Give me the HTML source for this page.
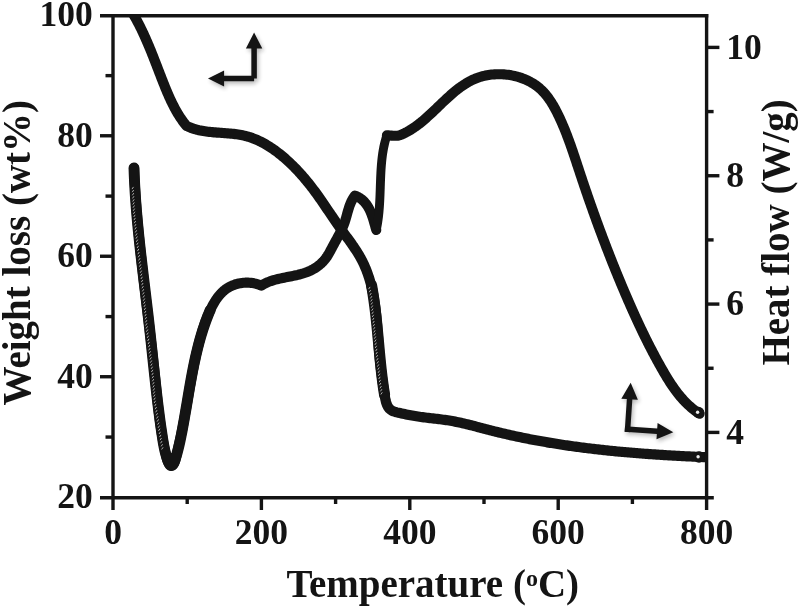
<!DOCTYPE html>
<html lang="en"><head><meta charset="utf-8"><title>TGA / DSC</title>
<style>
html,body{margin:0;padding:0;background:#fff;}
body{width:800px;height:608px;overflow:hidden;position:relative;font-family:"Liberation Serif",serif;}
svg{position:absolute;left:0;top:0;display:block;}
text{font-family:"Liberation Serif",serif;font-weight:bold;fill:#141414;}
.tk{font-size:35.5px;}
.lb{font-size:39px;}
</style></head><body>
<svg width="800" height="608" viewBox="0 0 800 608">
<defs><clipPath id="plot"><rect x="113.00" y="15.80" width="593.60" height="481.90"/></clipPath>
<filter id="sh" x="-30%" y="-30%" width="170%" height="170%"><feGaussianBlur stdDeviation="2"/></filter></defs>
<rect width="800" height="608" fill="#fff"/>
<g clip-path="url(#plot)" fill="none" stroke="#141414" stroke-linecap="round" stroke-linejoin="round">
<path d="M129.50,8.00 L130.33,9.30 L131.14,10.60 L131.94,11.91 L132.74,13.22 L133.51,14.54 L134.28,15.86 L135.04,17.19 L135.79,18.53 L136.52,19.87 L137.25,21.21 L137.96,22.56 L138.67,23.91 L139.36,25.27 L140.05,26.63 L140.73,28.00 L141.40,29.37 L142.06,30.74 L142.72,32.12 L143.36,33.50 L144.00,34.88 L144.64,36.27 L145.26,37.66 L145.88,39.06 L146.49,40.45 L147.10,41.85 L147.70,43.25 L148.30,44.66 L148.89,46.07 L149.48,47.48 L150.06,48.89 L150.64,50.30 L151.21,51.71 L151.78,53.13 L152.35,54.55 L152.91,55.97 L153.48,57.39 L154.03,58.81 L154.59,60.24 L155.15,61.66 L155.70,63.09 L156.25,64.51 L156.80,65.94 L157.35,67.36 L157.90,68.79 L158.45,70.22 L159.00,71.64 L159.56,73.07 L160.11,74.49 L160.66,75.92 L161.21,77.34 L161.77,78.77 L162.32,80.19 L162.88,81.61 L163.45,83.03 L164.01,84.45 L164.58,85.87 L165.15,87.29 L165.73,88.70 L166.31,90.11 L166.90,91.52 L167.49,92.92 L168.10,94.32 L168.71,95.72 L169.32,97.11 L169.95,98.50 L170.59,99.88 L171.24,101.25 L171.90,102.62 L172.57,103.98 L173.25,105.34 L173.95,106.69 L174.66,108.03 L175.39,109.36 L176.13,110.68 L176.88,112.00 L177.65,113.31 L178.44,114.61 L179.25,115.89 L180.07,117.17 L180.91,118.44 L181.78,119.69 L182.66,120.94 L183.56,122.17 L184.48,123.39 L185.43,124.60 L186.40,125.80 L187.75,126.45 L189.11,127.06 L190.49,127.62 L191.88,128.14 L193.29,128.62 L194.71,129.06 L196.13,129.47 L197.57,129.84 L199.02,130.19 L200.48,130.50 L201.95,130.79 L203.43,131.05 L204.91,131.28 L206.40,131.50 L207.90,131.69 L209.40,131.87 L210.91,132.03 L212.42,132.18 L213.94,132.32 L215.46,132.44 L216.98,132.56 L218.50,132.67 L220.03,132.78 L221.55,132.89 L223.08,133.00 L224.60,133.11 L226.12,133.22 L227.64,133.34 L229.16,133.47 L230.68,133.61 L232.19,133.76 L233.69,133.92 L235.19,134.10 L236.69,134.30 L238.17,134.51 L239.65,134.75 L241.13,135.02 L242.59,135.31 L244.05,135.62 L245.49,135.97 L246.93,136.35 L248.35,136.75 L249.76,137.19 L251.17,137.66 L252.56,138.15 L253.94,138.68 L255.32,139.23 L256.68,139.80 L258.03,140.40 L259.38,141.03 L260.71,141.68 L262.03,142.35 L263.35,143.05 L264.65,143.77 L265.94,144.51 L267.23,145.27 L268.50,146.05 L269.76,146.85 L271.02,147.67 L272.26,148.51 L273.50,149.36 L274.72,150.24 L275.94,151.12 L277.15,152.02 L278.34,152.94 L279.53,153.87 L280.71,154.82 L281.88,155.77 L283.04,156.74 L284.19,157.72 L285.33,158.71 L286.46,159.72 L287.58,160.73 L288.70,161.75 L289.80,162.78 L290.90,163.83 L291.99,164.88 L293.06,165.94 L294.13,167.01 L295.19,168.09 L296.25,169.18 L297.29,170.28 L298.32,171.38 L299.35,172.50 L300.37,173.62 L301.38,174.74 L302.38,175.88 L303.37,177.02 L304.35,178.17 L305.33,179.32 L306.30,180.48 L307.26,181.65 L308.21,182.82 L309.16,184.00 L310.09,185.18 L311.02,186.37 L311.94,187.56 L312.86,188.75 L313.76,189.95 L314.66,191.16 L315.55,192.36 L316.43,193.57 L317.31,194.79 L318.18,196.00 L319.04,197.22 L319.90,198.44 L320.76,199.67 L321.61,200.89 L322.45,202.12 L323.30,203.35 L324.14,204.58 L324.97,205.81 L325.81,207.05 L326.64,208.28 L327.48,209.52 L328.31,210.76 L329.14,212.00 L329.98,213.23 L330.81,214.47 L331.65,215.71 L332.48,216.95 L333.32,218.19 L334.17,219.43 L335.01,220.66 L335.86,221.90 L336.72,223.14 L337.58,224.37 L338.44,225.60 L339.31,226.83 L340.19,228.06 L341.07,229.29 L341.96,230.52 L342.86,231.74 L343.75,232.97 L344.65,234.19 L345.55,235.42 L346.45,236.65 L347.35,237.87 L348.24,239.10 L349.14,240.33 L350.03,241.57 L350.91,242.80 L351.79,244.04 L352.66,245.29 L353.52,246.53 L354.37,247.79 L355.21,249.05 L356.03,250.31 L356.85,251.58 L357.65,252.85 L358.43,254.14 L359.20,255.43 L359.96,256.73 L360.69,258.03 L361.40,259.35 L362.10,260.67 L362.77,262.00 L363.42,263.35 L364.05,264.70 L364.66,266.06 L365.25,267.42 L365.82,268.80 L366.38,270.18 L366.91,271.57 L367.43,272.97 L367.92,274.37 L368.40,275.79 L368.87,277.20 L369.32,278.63 L369.75,280.06 L370.16,281.49 L370.56,282.93 L370.95,284.38 L371.32,285.83 L371.67,287.28 L372.01,288.74 L372.34,290.20 L372.66,291.67 L372.96,293.14 L373.25,294.61 L373.53,296.09 L373.79,297.57 L374.05,299.05 L374.29,300.53 L374.52,302.02 L374.75,303.51 L374.96,305.00 L375.17,306.49 L375.36,307.98 L375.55,309.48 L375.73,310.98 L375.90,312.48 L376.07,313.98 L376.22,315.48 L376.38,316.98 L376.52,318.48 L376.66,319.98 L376.80,321.49 L376.93,322.99 L377.06,324.50 L377.18,326.01 L377.30,327.51 L377.42,329.02 L377.54,330.52 L377.65,332.03 L377.76,333.53 L377.87,335.04 L377.98,336.54 L378.09,338.05 L378.20,339.55 L378.31,341.06 L378.42,342.56 L378.53,344.06 L378.65,345.56 L378.77,347.06 L378.88,348.55 L379.01,350.05 L379.13,351.54 L379.26,353.03 L379.40,354.52 L379.53,356.01 L379.68,357.50 L379.82,358.98 L379.98,360.47 L380.13,361.95 L380.29,363.43 L380.46,364.91 L380.63,366.40 L380.80,367.88 L380.98,369.36 L381.16,370.84 L381.35,372.33 L381.54,373.81 L381.73,375.30 L381.93,376.79 L382.13,378.28 L382.34,379.77 L382.55,381.26 L382.76,382.76 L382.98,384.26 L383.20,385.76 L383.43,387.27 L383.66,388.78 L383.89,390.29 L384.12,391.81 L384.36,393.33 L384.60,394.86 L384.85,396.39 L385.11,397.91 L385.40,399.42 L385.73,400.90 L386.11,402.34 L386.55,403.73 L387.07,405.05 L387.68,406.29 L388.40,407.44 L389.23,408.50 L390.19,409.43 L391.30,410.25 L392.55,410.93 L393.92,411.50 L395.38,411.98 L396.91,412.39 L398.47,412.75 L400.03,413.10 L401.58,413.43 L403.10,413.76 L404.62,414.09 L406.11,414.40 L407.60,414.71 L409.08,415.01 L410.55,415.30 L412.03,415.57 L413.50,415.83 L414.98,416.08 L416.46,416.32 L417.95,416.54 L419.43,416.76 L420.92,416.96 L422.40,417.16 L423.89,417.35 L425.38,417.53 L426.87,417.71 L428.37,417.89 L429.86,418.06 L431.35,418.24 L432.84,418.41 L434.34,418.58 L435.83,418.75 L437.32,418.93 L438.81,419.11 L440.30,419.29 L441.79,419.48 L443.28,419.68 L444.77,419.88 L446.25,420.10 L447.73,420.32 L449.21,420.56 L450.69,420.80 L452.17,421.06 L453.64,421.34 L455.12,421.62 L456.59,421.91 L458.05,422.21 L459.52,422.53 L460.99,422.85 L462.45,423.18 L463.91,423.52 L465.37,423.86 L466.83,424.22 L468.29,424.57 L469.75,424.94 L471.20,425.30 L472.66,425.68 L474.12,426.05 L475.57,426.43 L477.02,426.81 L478.48,427.19 L479.93,427.58 L481.39,427.96 L482.84,428.35 L484.30,428.73 L485.75,429.11 L487.21,429.49 L488.66,429.87 L490.12,430.25 L491.57,430.62 L493.03,430.99 L494.49,431.35 L495.95,431.72 L497.41,432.07 L498.87,432.43 L500.33,432.78 L501.79,433.13 L503.26,433.47 L504.72,433.81 L506.18,434.15 L507.65,434.49 L509.11,434.82 L510.58,435.15 L512.05,435.47 L513.51,435.79 L514.98,436.11 L516.45,436.43 L517.92,436.74 L519.39,437.05 L520.86,437.36 L522.33,437.66 L523.80,437.96 L525.28,438.26 L526.75,438.55 L528.22,438.84 L529.70,439.13 L531.17,439.41 L532.65,439.69 L534.12,439.97 L535.60,440.25 L537.08,440.52 L538.56,440.79 L540.03,441.06 L541.51,441.32 L542.99,441.58 L544.47,441.84 L545.95,442.10 L547.43,442.35 L548.91,442.60 L550.40,442.85 L551.88,443.09 L553.36,443.34 L554.84,443.58 L556.33,443.81 L557.81,444.05 L559.30,444.28 L560.78,444.51 L562.27,444.73 L563.75,444.96 L565.24,445.18 L566.73,445.40 L568.21,445.61 L569.70,445.83 L571.19,446.04 L572.68,446.25 L574.17,446.45 L575.66,446.66 L577.15,446.86 L578.64,447.06 L580.13,447.25 L581.62,447.45 L583.11,447.64 L584.60,447.83 L586.09,448.01 L587.58,448.20 L589.08,448.38 L590.57,448.56 L592.06,448.74 L593.56,448.92 L595.05,449.09 L596.54,449.26 L598.04,449.43 L599.53,449.60 L601.03,449.76 L602.52,449.93 L604.02,450.09 L605.51,450.25 L607.01,450.40 L608.51,450.56 L610.00,450.71 L611.50,450.86 L613.00,451.01 L614.49,451.16 L615.99,451.30 L617.49,451.45 L618.99,451.59 L620.49,451.73 L621.98,451.86 L623.48,452.00 L624.98,452.13 L626.48,452.27 L627.98,452.40 L629.48,452.53 L630.98,452.65 L632.48,452.78 L633.98,452.90 L635.48,453.02 L636.98,453.14 L638.48,453.26 L639.98,453.38 L641.48,453.49 L642.98,453.61 L644.48,453.72 L645.98,453.83 L647.48,453.94 L648.98,454.05 L650.48,454.15 L651.98,454.26 L653.48,454.36 L654.98,454.46 L656.48,454.56 L657.98,454.66 L659.48,454.76 L660.99,454.86 L662.49,454.95 L663.99,455.04 L665.49,455.14 L666.99,455.23 L668.49,455.32 L669.99,455.40 L671.49,455.49 L672.99,455.58 L674.50,455.66 L676.00,455.75 L677.50,455.83 L679.00,455.91 L680.50,455.99 L682.00,456.07 L683.50,456.15 L685.00,456.22 L686.50,456.30 L688.00,456.37 L689.50,456.45 L691.00,456.52 L692.50,456.59 L694.00,456.66 L695.50,456.73 L697.00,456.80 L698.50,456.87 L700.00,456.94 L701.50,457.01 L703.00,457.07 L704.50,457.14 L706.00,457.20" stroke-width="10.2"/>
<path d="M134.00,168.00 L134.06,169.50 L134.13,171.00 L134.19,172.50 L134.26,174.00 L134.33,175.51 L134.41,177.01 L134.48,178.51 L134.56,180.01 L134.64,181.51 L134.72,183.01 L134.81,184.51 L134.90,186.01 L134.99,187.51 L135.08,189.01 L135.17,190.52 L135.27,192.02 L135.37,193.52 L135.47,195.02 L135.57,196.52 L135.68,198.02 L135.78,199.52 L135.89,201.02 L136.00,202.52 L136.11,204.02 L136.23,205.52 L136.34,207.03 L136.46,208.53 L136.58,210.03 L136.70,211.53 L136.82,213.03 L136.95,214.53 L137.08,216.03 L137.20,217.53 L137.33,219.03 L137.47,220.53 L137.60,222.03 L137.73,223.53 L137.87,225.03 L138.01,226.53 L138.15,228.03 L138.29,229.53 L138.43,231.03 L138.57,232.53 L138.72,234.03 L138.87,235.53 L139.01,237.03 L139.16,238.53 L139.31,240.03 L139.46,241.53 L139.62,243.03 L139.77,244.53 L139.93,246.03 L140.08,247.53 L140.24,249.03 L140.40,250.53 L140.56,252.03 L140.72,253.53 L140.88,255.03 L141.04,256.53 L141.21,258.03 L141.37,259.53 L141.54,261.03 L141.70,262.53 L141.87,264.02 L142.04,265.52 L142.21,267.02 L142.38,268.52 L142.55,270.02 L142.72,271.52 L142.89,273.02 L143.06,274.51 L143.23,276.01 L143.41,277.51 L143.58,279.01 L143.76,280.51 L143.93,282.00 L144.11,283.50 L144.29,285.00 L144.46,286.50 L144.64,288.00 L144.82,289.49 L145.00,290.99 L145.17,292.49 L145.35,293.98 L145.53,295.48 L145.71,296.98 L145.89,298.48 L146.07,299.97 L146.25,301.47 L146.43,302.96 L146.61,304.46 L146.79,305.96 L146.97,307.45 L147.15,308.95 L147.33,310.45 L147.51,311.94 L147.70,313.44 L147.88,314.93 L148.06,316.43 L148.24,317.92 L148.42,319.42 L148.60,320.91 L148.78,322.41 L148.96,323.90 L149.14,325.40 L149.32,326.89 L149.50,328.39 L149.68,329.88 L149.85,331.38 L150.03,332.87 L150.21,334.36 L150.39,335.86 L150.56,337.35 L150.74,338.85 L150.92,340.34 L151.09,341.83 L151.27,343.32 L151.44,344.82 L151.61,346.31 L151.79,347.80 L151.96,349.30 L152.13,350.79 L152.30,352.28 L152.47,353.77 L152.64,355.26 L152.81,356.76 L152.98,358.25 L153.15,359.74 L153.31,361.23 L153.48,362.72 L153.64,364.21 L153.81,365.70 L153.97,367.19 L154.13,368.68 L154.29,370.17 L154.45,371.66 L154.61,373.15 L154.77,374.64 L154.92,376.13 L155.08,377.62 L155.23,379.11 L155.39,380.60 L155.54,382.09 L155.69,383.58 L155.85,385.07 L156.00,386.56 L156.15,388.05 L156.31,389.54 L156.46,391.03 L156.62,392.52 L156.77,394.01 L156.93,395.49 L157.09,396.98 L157.25,398.47 L157.41,399.96 L157.57,401.46 L157.73,402.95 L157.90,404.44 L158.07,405.93 L158.24,407.42 L158.41,408.91 L158.59,410.41 L158.77,411.90 L158.95,413.39 L159.14,414.89 L159.33,416.38 L159.52,417.87 L159.72,419.37 L159.92,420.87 L160.12,422.36 L160.33,423.86 L160.54,425.36 L160.76,426.86 L160.98,428.36 L161.21,429.86 L161.45,431.36 L161.68,432.86 L161.93,434.36 L162.18,435.86 L162.43,437.37 L162.69,438.87 L162.96,440.38 L163.23,441.89 L163.51,443.39 L163.80,444.90 L164.09,446.41 L164.39,447.92 L164.70,449.44 L165.02,450.95 L165.34,452.46 L165.67,453.98 L166.01,455.50 L166.36,457.01 L166.74,458.49 L167.18,459.93 L167.69,461.30 L168.29,462.56 L169.01,463.71 L169.87,464.71 L170.87,465.41 L171.94,465.39 L172.96,464.71 L173.81,463.74 L174.52,462.55 L175.09,461.19 L175.56,459.71 L175.96,458.14 L176.32,456.53 L176.65,454.92 L176.98,453.33 L177.32,451.77 L177.65,450.23 L177.99,448.72 L178.32,447.22 L178.66,445.74 L178.99,444.28 L179.33,442.82 L179.66,441.38 L179.98,439.94 L180.31,438.50 L180.62,437.06 L180.94,435.61 L181.25,434.17 L181.56,432.72 L181.86,431.27 L182.16,429.81 L182.45,428.36 L182.74,426.90 L183.03,425.44 L183.31,423.97 L183.59,422.51 L183.87,421.04 L184.15,419.57 L184.42,418.09 L184.69,416.62 L184.96,415.14 L185.23,413.67 L185.49,412.19 L185.76,410.71 L186.02,409.22 L186.28,407.74 L186.54,406.25 L186.80,404.77 L187.05,403.28 L187.31,401.79 L187.57,400.30 L187.82,398.81 L188.08,397.32 L188.34,395.83 L188.59,394.34 L188.85,392.85 L189.11,391.36 L189.36,389.86 L189.62,388.37 L189.88,386.88 L190.15,385.39 L190.41,383.89 L190.67,382.40 L190.94,380.91 L191.21,379.42 L191.48,377.93 L191.75,376.44 L192.03,374.95 L192.30,373.46 L192.59,371.97 L192.87,370.48 L193.16,368.99 L193.45,367.51 L193.74,366.02 L194.04,364.54 L194.34,363.06 L194.65,361.58 L194.96,360.10 L195.27,358.63 L195.59,357.15 L195.91,355.68 L196.24,354.21 L196.58,352.74 L196.91,351.27 L197.26,349.81 L197.61,348.34 L197.96,346.88 L198.33,345.43 L198.69,343.97 L199.07,342.52 L199.45,341.07 L199.84,339.62 L200.23,338.18 L200.63,336.74 L201.04,335.30 L201.46,333.86 L201.88,332.43 L202.31,331.01 L202.75,329.58 L203.20,328.16 L203.67,326.74 L204.14,325.33 L204.63,323.91 L205.13,322.50 L205.64,321.10 L206.16,319.70 L206.71,318.30 L207.26,316.90 L207.84,315.51 L208.43,314.12 L209.04,312.73 L209.67,311.35 L210.31,309.97 L210.98,308.59 L211.67,307.22 L212.38,305.86 L213.12,304.51 L213.88,303.18 L214.66,301.87 L215.48,300.57 L216.32,299.31 L217.19,298.06 L218.10,296.85 L219.03,295.67 L220.01,294.53 L221.01,293.43 L222.05,292.37 L223.13,291.35 L224.25,290.38 L225.41,289.47 L226.61,288.61 L227.85,287.80 L229.14,287.05 L230.45,286.36 L231.81,285.73 L233.19,285.15 L234.60,284.64 L236.03,284.18 L237.49,283.78 L238.96,283.44 L240.45,283.16 L241.96,282.94 L243.47,282.77 L244.99,282.67 L246.51,282.63 L248.03,282.65 L249.55,282.73 L251.06,282.87 L252.57,283.08 L254.06,283.34 L255.54,283.67 L257.00,284.06 L258.44,284.51 L259.86,285.02 L261.25,285.60 L262.54,284.82 L263.85,284.08 L265.18,283.40 L266.54,282.76 L267.92,282.17 L269.32,281.62 L270.73,281.10 L272.17,280.63 L273.62,280.18 L275.08,279.76 L276.56,279.36 L278.05,278.99 L279.54,278.64 L281.05,278.31 L282.56,277.99 L284.08,277.68 L285.60,277.37 L287.12,277.08 L288.65,276.78 L290.17,276.49 L291.69,276.19 L293.21,275.88 L294.72,275.56 L296.23,275.23 L297.73,274.89 L299.21,274.52 L300.69,274.13 L302.16,273.72 L303.61,273.28 L305.05,272.81 L306.46,272.31 L307.87,271.77 L309.25,271.19 L310.61,270.56 L311.95,269.89 L313.26,269.18 L314.55,268.43 L315.81,267.63 L317.04,266.78 L318.23,265.90 L319.40,264.97 L320.53,264.00 L321.62,262.99 L322.68,261.93 L323.70,260.84 L324.67,259.70 L325.60,258.53 L326.49,257.31 L327.33,256.06 L328.14,254.77 L328.91,253.46 L329.66,252.12 L330.39,250.77 L331.11,249.41 L331.83,248.05 L332.55,246.69 L333.27,245.33 L334.01,243.98 L334.74,242.63 L335.48,241.29 L336.22,239.95 L336.96,238.61 L337.69,237.27 L338.41,235.92 L339.12,234.58 L339.82,233.23 L340.51,231.88 L341.17,230.52 L341.82,229.16 L342.45,227.78 L343.05,226.40 L343.62,225.00 L344.17,223.59 L344.68,222.17 L345.16,220.74 L345.61,219.29 L346.04,217.84 L346.46,216.37 L346.87,214.91 L347.27,213.44 L347.68,211.98 L348.10,210.52 L348.53,209.07 L348.98,207.63 L349.46,206.21 L349.97,204.80 L350.53,203.40 L351.12,202.03 L351.77,200.69 L352.48,199.37 L353.25,198.08 L354.09,196.82 L355.00,195.60 L356.56,196.24 L358.03,196.96 L359.41,197.76 L360.72,198.64 L361.94,199.59 L363.09,200.60 L364.17,201.68 L365.17,202.81 L366.12,204.00 L367.00,205.24 L367.83,206.52 L368.60,207.85 L369.33,209.22 L370.01,210.61 L370.64,212.04 L371.24,213.50 L371.80,214.97 L372.33,216.46 L372.83,217.97 L373.30,219.49 L373.76,221.01 L374.19,222.53 L374.62,224.04 L375.03,225.55 L375.44,227.05 L375.84,228.54 L376.25,230.00" stroke-width="10.1"/>
<path d="M376.25,230.00 L376.57,228.50 L376.87,226.99 L377.15,225.48 L377.42,223.97 L377.66,222.45 L377.89,220.94 L378.11,219.41 L378.31,217.89 L378.50,216.36 L378.67,214.83 L378.83,213.30 L378.98,211.77 L379.11,210.23 L379.24,208.70 L379.36,207.16 L379.46,205.62 L379.56,204.07 L379.65,202.53 L379.74,200.98 L379.81,199.44 L379.89,197.89 L379.95,196.34 L380.02,194.79 L380.07,193.25 L380.13,191.70 L380.19,190.15 L380.24,188.60 L380.29,187.05 L380.34,185.50 L380.40,183.95 L380.45,182.40 L380.51,180.85 L380.57,179.30 L380.63,177.76 L380.70,176.21 L380.77,174.67 L380.85,173.12 L380.93,171.58 L381.02,170.04 L381.12,168.50 L381.23,166.96 L381.35,165.43 L381.48,163.89 L381.61,162.36 L381.76,160.83 L381.93,159.31 L382.10,157.79 L382.29,156.26 L382.49,154.75 L382.71,153.23 L382.95,151.72 L383.20,150.22 L383.48,148.71 L383.77,147.21 L384.08,145.72 L384.41,144.23 L384.77,142.75 L385.14,141.27 L385.54,139.79 L385.97,138.32 L386.42,136.86 L386.90,135.40" stroke-width="8.9"/>
<path d="M386.90,135.40 L388.41,135.41 L389.93,135.49 L391.44,135.61 L392.95,135.73 L394.45,135.80 L395.93,135.80 L397.40,135.68 L398.84,135.42 L400.26,135.02 L401.65,134.51 L403.03,133.92 L404.38,133.27 L405.72,132.58 L407.04,131.87 L408.34,131.13 L409.63,130.38 L410.90,129.60 L412.15,128.80 L413.39,127.98 L414.62,127.14 L415.83,126.28 L417.04,125.41 L418.23,124.51 L419.41,123.61 L420.58,122.68 L421.74,121.74 L422.89,120.79 L424.03,119.82 L425.17,118.84 L426.30,117.85 L427.42,116.85 L428.54,115.84 L429.66,114.82 L430.77,113.79 L431.87,112.76 L432.98,111.72 L434.08,110.67 L435.18,109.61 L436.29,108.55 L437.39,107.49 L438.49,106.43 L439.60,105.36 L440.70,104.30 L441.81,103.23 L442.93,102.17 L444.04,101.11 L445.16,100.05 L446.29,99.00 L447.41,97.95 L448.55,96.92 L449.69,95.89 L450.83,94.87 L451.98,93.87 L453.14,92.87 L454.31,91.89 L455.48,90.93 L456.67,89.98 L457.86,89.05 L459.06,88.14 L460.27,87.25 L461.49,86.38 L462.72,85.53 L463.96,84.70 L465.22,83.90 L466.48,83.12 L467.76,82.37 L469.05,81.65 L470.35,80.96 L471.67,80.30 L473.00,79.67 L474.35,79.07 L475.71,78.51 L477.09,77.98 L478.48,77.49 L479.88,77.03 L481.30,76.61 L482.73,76.22 L484.17,75.86 L485.63,75.54 L487.09,75.25 L488.57,75.00 L490.05,74.78 L491.54,74.60 L493.04,74.45 L494.55,74.34 L496.06,74.26 L497.58,74.21 L499.11,74.20 L500.64,74.22 L502.17,74.28 L503.71,74.37 L505.24,74.50 L506.78,74.66 L508.31,74.85 L509.85,75.08 L511.37,75.34 L512.89,75.64 L514.41,75.96 L515.91,76.33 L517.41,76.73 L518.89,77.16 L520.37,77.62 L521.82,78.12 L523.26,78.65 L524.69,79.22 L526.10,79.82 L527.48,80.45 L528.85,81.12 L530.19,81.82 L531.51,82.55 L532.81,83.32 L534.08,84.12 L535.32,84.95 L536.53,85.82 L537.71,86.72 L538.86,87.65 L539.98,88.62 L541.07,89.62 L542.13,90.64 L543.16,91.70 L544.16,92.78 L545.13,93.89 L546.08,95.02 L547.00,96.18 L547.90,97.36 L548.78,98.56 L549.63,99.78 L550.47,101.02 L551.28,102.27 L552.07,103.55 L552.85,104.83 L553.60,106.13 L554.35,107.45 L555.07,108.77 L555.78,110.10 L556.48,111.45 L557.16,112.79 L557.83,114.15 L558.50,115.51 L559.15,116.88 L559.79,118.24 L560.42,119.61 L561.04,120.99 L561.65,122.37 L562.26,123.75 L562.86,125.14 L563.44,126.52 L564.02,127.92 L564.60,129.31 L565.16,130.71 L565.72,132.11 L566.27,133.51 L566.81,134.91 L567.35,136.32 L567.89,137.73 L568.41,139.14 L568.93,140.56 L569.45,141.97 L569.96,143.39 L570.47,144.81 L570.97,146.23 L571.47,147.65 L571.96,149.08 L572.46,150.50 L572.94,151.93 L573.43,153.36 L573.91,154.79 L574.39,156.22 L574.87,157.65 L575.35,159.08 L575.82,160.51 L576.30,161.94 L576.77,163.37 L577.24,164.81 L577.72,166.24 L578.19,167.68 L578.66,169.11 L579.13,170.54 L579.61,171.98 L580.08,173.41 L580.56,174.84 L581.03,176.27 L581.51,177.70 L581.99,179.14 L582.47,180.57 L582.95,182.00 L583.43,183.43 L583.91,184.86 L584.40,186.29 L584.88,187.72 L585.37,189.15 L585.86,190.57 L586.35,192.00 L586.84,193.43 L587.33,194.86 L587.82,196.28 L588.32,197.71 L588.81,199.13 L589.31,200.56 L589.81,201.99 L590.31,203.41 L590.81,204.83 L591.31,206.26 L591.81,207.68 L592.32,209.10 L592.82,210.53 L593.33,211.95 L593.84,213.37 L594.34,214.79 L594.86,216.21 L595.37,217.63 L595.88,219.05 L596.39,220.47 L596.91,221.88 L597.43,223.30 L597.95,224.72 L598.47,226.14 L598.99,227.55 L599.51,228.97 L600.03,230.38 L600.56,231.80 L601.09,233.21 L601.61,234.62 L602.14,236.04 L602.67,237.45 L603.21,238.86 L603.74,240.27 L604.28,241.68 L604.81,243.09 L605.35,244.50 L605.89,245.91 L606.43,247.32 L606.97,248.73 L607.52,250.13 L608.06,251.54 L608.61,252.95 L609.16,254.35 L609.71,255.75 L610.26,257.16 L610.81,258.56 L611.36,259.96 L611.92,261.37 L612.48,262.77 L613.04,264.17 L613.60,265.57 L614.16,266.97 L614.72,268.37 L615.29,269.76 L615.85,271.16 L616.42,272.56 L616.99,273.95 L617.56,275.35 L618.14,276.74 L618.71,278.14 L619.29,279.53 L619.86,280.92 L620.44,282.31 L621.02,283.70 L621.61,285.10 L622.19,286.48 L622.78,287.87 L623.37,289.26 L623.95,290.65 L624.55,292.04 L625.14,293.42 L625.73,294.81 L626.33,296.19 L626.93,297.57 L627.52,298.96 L628.13,300.34 L628.73,301.72 L629.33,303.10 L629.94,304.48 L630.55,305.86 L631.16,307.24 L631.77,308.61 L632.38,309.99 L633.00,311.36 L633.62,312.74 L634.24,314.11 L634.86,315.48 L635.49,316.85 L636.11,318.22 L636.74,319.59 L637.37,320.96 L638.01,322.32 L638.65,323.69 L639.28,325.05 L639.93,326.42 L640.57,327.78 L641.22,329.14 L641.87,330.50 L642.52,331.86 L643.17,333.21 L643.83,334.57 L644.49,335.92 L645.16,337.27 L645.82,338.62 L646.49,339.97 L647.17,341.32 L647.84,342.67 L648.52,344.01 L649.20,345.36 L649.89,346.70 L650.58,348.04 L651.27,349.38 L651.97,350.71 L652.67,352.05 L653.37,353.38 L654.08,354.72 L654.78,356.05 L655.50,357.37 L656.22,358.70 L656.94,360.03 L657.66,361.35 L658.39,362.67 L659.12,363.99 L659.86,365.31 L660.60,366.62 L661.34,367.94 L662.09,369.25 L662.84,370.56 L663.60,371.86 L664.36,373.17 L665.13,374.47 L665.90,375.77 L666.68,377.06 L667.46,378.35 L668.26,379.63 L669.06,380.91 L669.87,382.18 L670.69,383.44 L671.52,384.69 L672.36,385.94 L673.21,387.18 L674.08,388.41 L674.95,389.63 L675.84,390.83 L676.74,392.03 L677.65,393.22 L678.58,394.39 L679.52,395.55 L680.48,396.70 L681.45,397.84 L682.44,398.96 L683.45,400.06 L684.47,401.15 L685.51,402.23 L686.57,403.29 L687.65,404.33 L688.75,405.35 L689.87,406.36 L691.01,407.35 L692.17,408.32 L693.35,409.27 L694.55,410.19 L695.78,411.10 L697.03,411.99 L698.30,412.86 L699.60,413.70" stroke-width="10.1"/>
</g>
<g clip-path="url(#plot)" fill="none" stroke="#141414" stroke-linecap="round" stroke-linejoin="round">
<path d="M134.00,168.00 L134.05,169.51 L134.10,171.01 L134.15,172.52 L134.20,174.03 L134.26,175.53 L134.33,177.04 L134.39,178.54 L134.46,180.05 L134.53,181.55 L134.61,183.06 L134.68,184.56 L134.77,186.06 L134.85,187.57 L134.94,189.07 L135.02,190.57 L135.12,192.08 L135.21,193.58 L135.31,195.08 L135.41,196.58 L135.51,198.09 L135.62,199.59 L135.72,201.09 L135.83,202.59 L135.95,204.09 L136.06,205.59 L136.18,207.09 L136.30,208.59 L136.42,210.09 L136.54,211.59 L136.67,213.09 L136.80,214.59 L136.93,216.09 L137.06,217.59 L137.20,219.08 L137.33,220.58 L137.47,222.08 L137.61,223.58 L137.75,225.08 L137.90,226.57 L138.04,228.07 L138.19,229.57 L138.34,231.07 L138.49,232.56 L138.64,234.06 L138.80,235.56 L138.95,237.05 L139.11,238.55 L139.27,240.05 L139.42,241.54 L139.59,243.04 L139.75,244.53 L139.91,246.03 L140.08,247.53 L140.24,249.02 L140.41,250.52 L140.58,252.01 L140.74,253.51 L140.91,255.00 L141.09,256.50 L141.26,257.99 L141.43,259.49 L141.60,260.98 L141.78,262.48 L141.95,263.97 L142.13,265.47 L142.30,266.96 L142.48,268.46 L142.66,269.95 L142.84,271.45 L143.02,272.94 L143.19,274.44 L143.37,275.93 L143.55,277.43 L143.73,278.92 L143.91,280.42 L144.09,281.91 L144.28,283.41 L144.46,284.90 L144.64,286.40 L144.82,287.89 L145.00,289.38 L145.18,290.88 L145.36,292.37 L145.54,293.87 L145.72,295.36 L145.90,296.86 L146.08,298.35 L146.26,299.85 L146.44,301.34 L146.62,302.84 L146.80,304.33 L146.98,305.83 L147.16,307.32 L147.34,308.82 L147.51,310.32 L147.69,311.81 L147.87,313.31 L148.04,314.80 L148.22,316.30 L148.39,317.79 L148.56,319.29 L148.73,320.79 L148.90,322.28 L149.07,323.78 L149.24,325.28 L149.41,326.77 L149.58,328.27 L149.74,329.77 L149.91,331.26 L150.07,332.76 L150.24,334.26 L150.40,335.76 L150.56,337.25 L150.72,338.75 L150.89,340.25 L151.05,341.75 L151.21,343.24 L151.37,344.74 L151.53,346.24 L151.68,347.74 L151.84,349.23 L152.00,350.73 L152.16,352.23 L152.32,353.73 L152.48,355.22 L152.63,356.72 L152.79,358.22 L152.95,359.72 L153.11,361.21 L153.27,362.71 L153.42,364.21 L153.58,365.71 L153.74,367.20 L153.90,368.70 L154.06,370.20 L154.22,371.69 L154.38,373.19 L154.54,374.69 L154.70,376.18 L154.87,377.68 L155.03,379.18 L155.19,380.67 L155.36,382.17 L155.52,383.66 L155.69,385.16 L155.86,386.65 L156.03,388.15 L156.20,389.64 L156.37,391.14 L156.54,392.63 L156.71,394.13 L156.88,395.62 L157.06,397.11 L157.24,398.61 L157.41,400.10 L157.59,401.59 L157.77,403.09 L157.96,404.58 L158.14,406.07 L158.32,407.56 L158.51,409.05 L158.70,410.54 L158.89,412.04 L159.08,413.53 L159.28,415.02 L159.47,416.51 L159.67,417.99 L159.87,419.48 L160.07,420.97 L160.28,422.46 L160.48,423.95 L160.69,425.43 L160.90,426.92 L161.12,428.41 L161.33,429.89 L161.55,431.38 L161.77,432.86 L161.99,434.35 L162.22,435.83 L162.44,437.32 L162.67,438.80 L162.91,440.28 L163.15,441.77 L163.40,443.25 L163.67,444.73 L163.95,446.21 L164.24,447.70 L164.56,449.18 L164.90,450.66 L165.26,452.15 L165.65,453.63 L166.06,455.12 L166.51,456.61 L167.00,458.10 L167.52,459.59 L168.08,461.08 L168.68,462.56 L169.33,463.91 L170.05,464.98 L170.85,465.59 L171.74,465.59 L172.62,464.98 L173.37,463.87 L174.00,462.44 L174.57,460.90 L175.10,459.37 L175.62,457.84 L176.10,456.33 L176.57,454.83 L177.01,453.34 L177.43,451.85 L177.83,450.37 L178.21,448.90 L178.58,447.43 L178.93,445.97 L179.27,444.51 L179.60,443.05 L179.92,441.60 L180.23,440.14 L180.54,438.69 L180.84,437.23 L181.13,435.77 L181.42,434.31 L181.71,432.85 L181.99,431.38 L182.27,429.91 L182.55,428.45 L182.82,426.98 L183.09,425.51 L183.36,424.03 L183.63,422.56 L183.89,421.08 L184.15,419.61 L184.41,418.13 L184.67,416.65 L184.93,415.17 L185.18,413.69 L185.43,412.20 L185.69,410.72 L185.94,409.24 L186.19,407.75 L186.44,406.27 L186.69,404.78 L186.94,403.29 L187.19,401.81 L187.44,400.32 L187.69,398.83 L187.94,397.34 L188.19,395.85 L188.44,394.36 L188.69,392.87 L188.94,391.39 L189.20,389.90 L189.46,388.41 L189.71,386.92 L189.97,385.43 L190.24,383.94 L190.50,382.45 L190.77,380.97 L191.03,379.48 L191.31,377.99 L191.58,376.51 L191.86,375.02 L192.14,373.54 L192.42,372.05 L192.71,370.57 L193.00,369.09 L193.30,367.61 L193.59,366.13 L193.90,364.65 L194.21,363.18 L194.52,361.70 L194.84,360.23 L195.16,358.75 L195.48,357.28 L195.82,355.81 L196.15,354.34 L196.50,352.88 L196.85,351.41 L197.20,349.95 L197.56,348.49 L197.93,347.03 L198.30,345.57 L198.68,344.12 L199.07,342.66 L199.47,341.21 L199.87,339.76 L200.28,338.32 L200.69,336.87 L201.12,335.43 L201.55,334.00 L201.99,332.56 L202.43,331.13 L202.89,329.70 L203.36,328.27 L203.83,326.84 L204.31,325.42 L204.80,324.00 L205.30,322.59 L205.81,321.18 L206.33,319.77 L206.86,318.36 L207.40,316.96 L207.95,315.56 L208.51,314.16 L209.08,312.77 L209.66,311.38 L210.25,310.00" stroke-width="10.9"/>
<path d="M371.50,285.00 L371.77,286.51 L372.04,288.03 L372.30,289.54 L372.55,291.06 L372.80,292.58 L373.04,294.10 L373.27,295.62 L373.50,297.14 L373.72,298.66 L373.94,300.18 L374.15,301.70 L374.36,303.23 L374.56,304.75 L374.76,306.27 L374.95,307.80 L375.14,309.33 L375.33,310.85 L375.51,312.38 L375.68,313.91 L375.86,315.44 L376.03,316.97 L376.19,318.50 L376.36,320.03 L376.52,321.56 L376.68,323.09 L376.83,324.62 L376.99,326.15 L377.14,327.68 L377.29,329.21 L377.43,330.75 L377.58,332.28 L377.73,333.81 L377.87,335.35 L378.01,336.88 L378.16,338.41 L378.30,339.95 L378.44,341.48 L378.58,343.01 L378.72,344.55 L378.86,346.08 L379.00,347.61 L379.15,349.15 L379.29,350.68 L379.43,352.21 L379.58,353.75 L379.72,355.28 L379.87,356.81 L380.02,358.35 L380.17,359.88 L380.33,361.41 L380.48,362.94 L380.64,364.48 L380.80,366.01 L380.96,367.54 L381.13,369.07 L381.30,370.60 L381.47,372.13 L381.65,373.66 L381.83,375.19 L382.01,376.71 L382.20,378.24 L382.39,379.77 L382.59,381.29 L382.79,382.82 L383.00,384.35 L383.21,385.87 L383.43,387.39 L383.65,388.92 L383.88,390.44 L384.11,391.96 L384.35,393.48 L384.60,395.00" stroke-width="11.1"/>
</g>
<g clip-path="url(#plot)" fill="none" stroke="#d0d0d0" stroke-width="0.8" stroke-linecap="butt">
<path d="M132.0,189.1 l1.5,-2.2M132.2,192.2 l1.5,-2.2M132.3,195.3 l1.5,-2.2M132.5,198.4 l1.5,-2.2M132.7,201.5 l1.5,-2.2M132.8,204.6 l1.5,-2.2M133.0,207.7 l1.5,-2.2M133.2,210.8 l1.5,-2.2M133.4,213.9 l1.5,-2.2M133.7,217.0 l1.5,-2.2M133.9,220.1 l1.5,-2.2M134.2,223.2 l1.5,-2.2M134.5,226.3 l1.5,-2.2M134.8,229.4 l1.5,-2.2M135.2,232.5 l1.5,-2.2M135.6,235.6 l1.5,-2.2M135.9,238.7 l1.5,-2.2M136.3,241.8 l1.5,-2.2M136.7,244.9 l1.5,-2.2M137.1,248.0 l1.5,-2.2M137.4,251.1 l1.5,-2.2M137.8,254.2 l1.5,-2.2M138.2,257.3 l1.5,-2.2M138.6,260.4 l1.5,-2.2M139.0,263.5 l1.5,-2.2M139.4,266.6 l1.5,-2.2M139.8,269.7 l1.5,-2.2M140.2,272.8 l1.5,-2.2M140.5,275.9 l1.5,-2.2M140.9,279.0 l1.5,-2.2M141.3,282.1 l1.5,-2.2M141.6,285.2 l1.5,-2.2M141.9,288.3 l1.5,-2.2M142.3,291.4 l1.5,-2.2M142.6,294.5 l1.5,-2.2M143.0,297.6 l1.5,-2.2M143.3,300.7 l1.5,-2.2M143.6,303.8 l1.5,-2.2M143.9,306.9 l1.5,-2.2M144.2,310.0 l1.5,-2.2M144.5,313.1 l1.5,-2.2M144.8,316.2 l1.5,-2.2M145.1,319.3 l1.5,-2.2M145.4,322.4 l1.5,-2.2M145.6,325.5 l1.5,-2.2M146.0,328.6 l1.5,-2.2M146.4,331.7 l1.5,-2.2M146.8,334.8 l1.5,-2.2M147.2,337.9 l1.5,-2.2M147.6,341.0 l1.5,-2.2M148.0,344.1 l1.5,-2.2M148.4,347.2 l1.5,-2.2M148.7,350.3 l1.5,-2.2M149.1,353.4 l1.5,-2.2M149.5,356.5 l1.5,-2.2M149.9,359.6 l1.5,-2.2M150.3,362.7 l1.5,-2.2M150.7,365.8 l1.5,-2.2M151.1,368.9 l1.5,-2.2M151.4,372.0 l1.5,-2.2M151.8,375.1 l1.5,-2.2M152.1,378.2 l1.5,-2.2M152.3,381.3 l1.5,-2.2M152.6,384.4 l1.5,-2.2M152.8,387.5 l1.5,-2.2M153.1,390.6 l1.5,-2.2M153.3,393.7 l1.5,-2.2M153.5,396.8 l1.5,-2.2M153.8,399.9 l1.5,-2.2M154.1,403.0 l1.5,-2.2M154.6,406.1 l1.5,-2.2M155.1,409.2 l1.5,-2.2M155.6,412.3 l1.5,-2.2M156.1,415.4 l1.5,-2.2M156.6,418.5 l1.5,-2.2M157.1,421.6 l1.5,-2.2M157.6,424.7 l1.5,-2.2M158.1,427.8 l1.5,-2.2M158.5,430.9 l1.5,-2.2M159.0,434.0 l1.5,-2.2M159.5,437.1 l1.5,-2.2M160.0,440.2 l1.5,-2.2M160.5,443.3 l1.5,-2.2M161.1,446.4 l1.5,-2.2M161.6,449.5 l1.5,-2.2"/>
<path d="M368.6,289.1 l1.5,-2.2M369.2,292.2 l1.5,-2.2M369.8,295.3 l1.5,-2.2M370.4,298.4 l1.5,-2.2M370.7,301.5 l1.5,-2.2M371.0,304.6 l1.5,-2.2M371.3,307.7 l1.5,-2.2M371.6,310.8 l1.5,-2.2M371.9,313.9 l1.5,-2.2M372.2,317.0 l1.5,-2.2M372.5,320.1 l1.5,-2.2M372.8,323.2 l1.5,-2.2M373.1,326.3 l1.5,-2.2M373.4,329.4 l1.5,-2.2M373.7,332.5 l1.5,-2.2M374.0,335.6 l1.5,-2.2M374.3,338.7 l1.5,-2.2M374.6,341.8 l1.5,-2.2M374.9,344.9 l1.5,-2.2M375.2,348.0 l1.5,-2.2M375.6,351.1 l1.5,-2.2M375.9,354.2 l1.5,-2.2M376.2,357.3 l1.5,-2.2M376.6,360.4 l1.5,-2.2M377.0,363.5 l1.5,-2.2M377.4,366.6 l1.5,-2.2M377.8,369.7 l1.5,-2.2M378.1,372.8 l1.5,-2.2M378.4,375.9 l1.5,-2.2M378.7,379.0 l1.5,-2.2M379.1,382.1 l1.5,-2.2M379.4,385.2 l1.5,-2.2M379.9,388.3 l1.5,-2.2M380.4,391.4 l1.5,-2.2M380.8,394.5 l1.5,-2.2"/>
</g>
<circle cx="698.5" cy="412.5" r="5.8" fill="#141414"/>
<circle cx="697.6" cy="412.2" r="1.7" fill="#ececec"/>
<circle cx="699.0" cy="457.0" r="5.8" fill="#141414"/>
<circle cx="698.1" cy="456.7" r="1.7" fill="#ececec"/>
<g stroke="#141414" stroke-width="3.4" fill="none" stroke-linecap="butt">
<path d="M100.00,15.80 H708.30"/>
<path d="M100.00,497.70 H713.80"/>
<path d="M113.00,15.80 V510.00"/>
<path d="M706.60,14.10 V510.00"/>
<path d="M100,135.77 H113.00"/>
<path d="M100,256.25 H113.00"/>
<path d="M100,376.73 H113.00"/>
<path d="M105.5,75.64 H113.00"/>
<path d="M105.5,196.11 H113.00"/>
<path d="M105.5,316.59 H113.00"/>
<path d="M105.5,437.06 H113.00"/>
<path d="M261.40,497.70 V510"/>
<path d="M409.80,497.70 V510"/>
<path d="M558.20,497.70 V510"/>
<path d="M187.20,497.70 V504"/>
<path d="M335.60,497.70 V504"/>
<path d="M484.00,497.70 V504"/>
<path d="M632.40,497.70 V504"/>
<path d="M706.60,47.40 H719.4"/>
<path d="M706.60,175.74 H719.4"/>
<path d="M706.60,304.08 H719.4"/>
<path d="M706.60,432.42 H719.4"/>
<path d="M706.60,111.57 H713.6"/>
<path d="M706.60,239.91 H713.6"/>
<path d="M706.60,368.25 H713.6"/>
</g>
<g transform="translate(255.70,80.90) rotate(0.00)" filter="url(#sh)" opacity="0.30" fill="#141414"><polygon points="-2.75,0.00 -2.75,-30.00 -8.20,-30.00 0.00,-46.00 8.20,-30.00 2.75,-30.00 2.75,0.00"/><polygon points="0.00,-2.75 -30.00,-2.75 -30.00,-8.00 -46.10,0.00 -30.00,8.00 -30.00,2.75 0.00,2.75"/></g><g transform="translate(254.10,78.50) rotate(0.00)" opacity="1.00" fill="#141414"><polygon points="-2.75,0.00 -2.75,-30.00 -8.20,-30.00 0.00,-46.00 8.20,-30.00 2.75,-30.00 2.75,0.00"/><polygon points="0.00,-2.75 -30.00,-2.75 -30.00,-8.00 -46.10,0.00 -30.00,8.00 -30.00,2.75 0.00,2.75"/></g>
<g transform="translate(629.20,431.60) rotate(3.80)" filter="url(#sh)" opacity="0.30" fill="#141414"><polygon points="-2.75,2.75 -2.75,-30.00 -8.30,-30.00 0.00,-46.50 8.30,-30.00 2.75,-30.00 2.75,2.75"/><polygon points="-2.75,-2.75 29.50,-2.75 29.50,-8.20 45.80,0.00 29.50,8.20 29.50,2.75 -2.75,2.75"/></g><g transform="translate(627.60,429.20) rotate(3.80)" opacity="1.00" fill="#141414"><polygon points="-2.75,2.75 -2.75,-30.00 -8.30,-30.00 0.00,-46.50 8.30,-30.00 2.75,-30.00 2.75,2.75"/><polygon points="-2.75,-2.75 29.50,-2.75 29.50,-8.20 45.80,0.00 29.50,8.20 29.50,2.75 -2.75,2.75"/></g>
<text class="tk" x="113.00" y="544" text-anchor="middle">0</text>
<text class="tk" x="261.40" y="544" text-anchor="middle">200</text>
<text class="tk" x="409.80" y="544" text-anchor="middle">400</text>
<text class="tk" x="558.20" y="544" text-anchor="middle">600</text>
<text class="tk" x="706.60" y="544" text-anchor="middle">800</text>
<text class="tk" x="92.8" y="26.10" text-anchor="end">100</text>
<text class="tk" x="92.8" y="146.57" text-anchor="end">80</text>
<text class="tk" x="92.8" y="267.05" text-anchor="end">60</text>
<text class="tk" x="92.8" y="387.53" text-anchor="end">40</text>
<text class="tk" x="92.8" y="508.00" text-anchor="end">20</text>
<text class="tk" x="726.2" y="58.70" text-anchor="start">10</text>
<text class="tk" x="726.2" y="187.04" text-anchor="start">8</text>
<text class="tk" x="726.2" y="315.38" text-anchor="start">6</text>
<text class="tk" x="726.2" y="443.72" text-anchor="start">4</text>
<text class="lb" x="432.8" y="597.2" text-anchor="middle">Temperature (<tspan font-size="24" dy="-11">o</tspan><tspan dy="11">C)</tspan></text>
<text class="lb" transform="translate(30.3,252.7) rotate(-90)" text-anchor="middle">Weight loss (wt%)</text>
<text class="lb" transform="translate(788.8,232.4) rotate(-90)" text-anchor="middle">Heat flow (W/g)</text>
</svg></body></html>
